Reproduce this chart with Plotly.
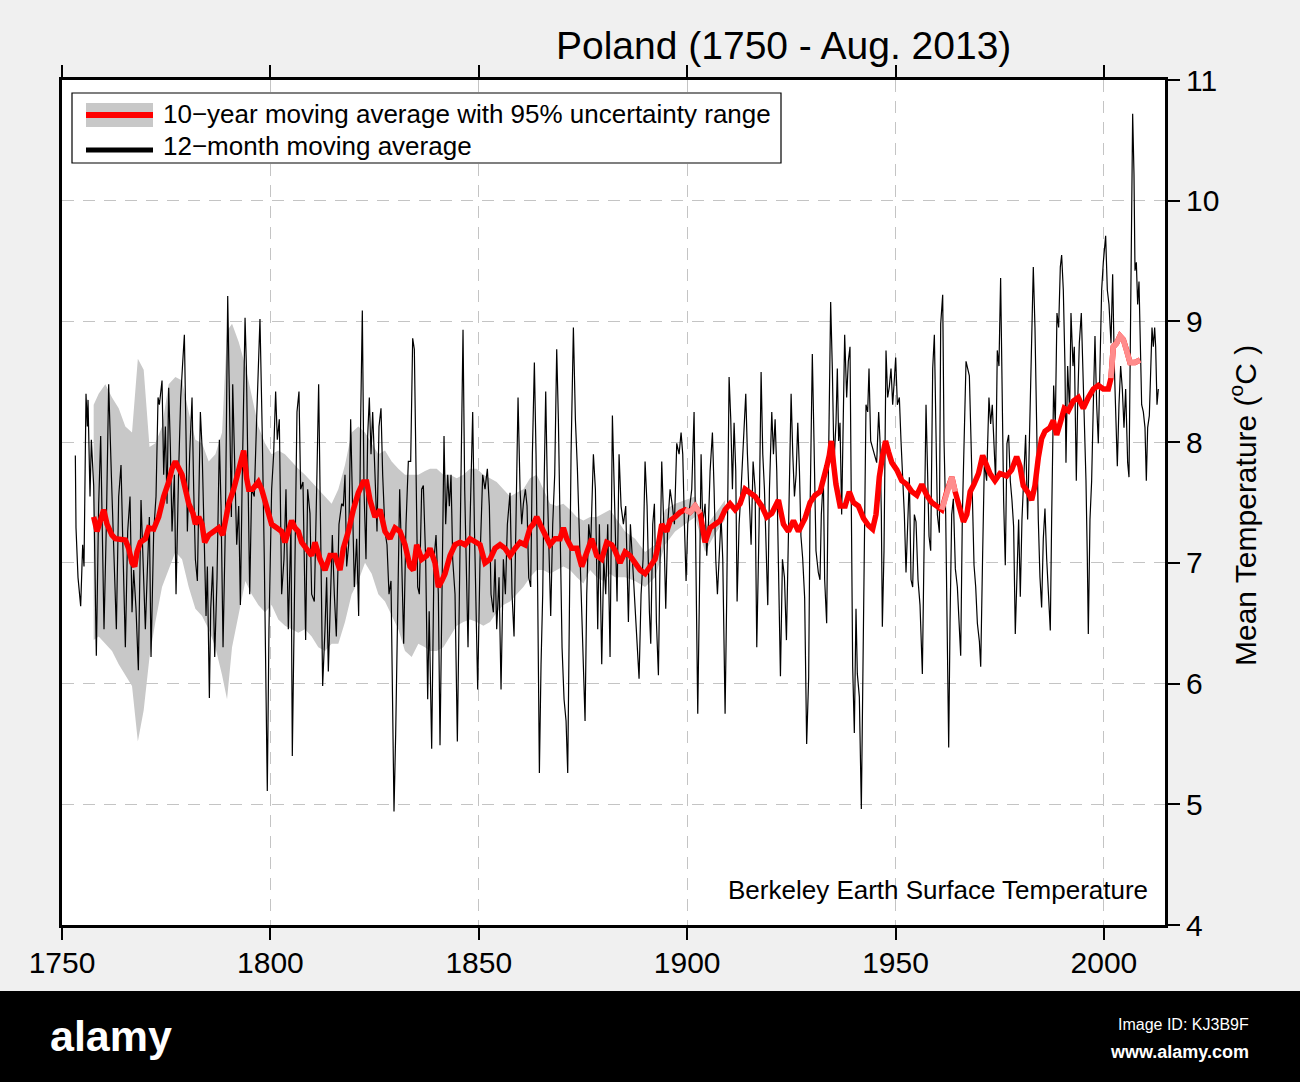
import plotly.graph_objects as go

# ---------------- data ----------------
black_years = [
    1753.2, 1753.36, 1753.84, 1754.48, 1754.96, 1755.28, 1755.76, 1756.08, 1756.24, 1756.72,
    1757.04, 1757.6, 1758.24, 1758.8, 1759.28, 1759.76, 1760.08, 1760.64, 1761.2, 1761.84,
    1762.4, 1763.04, 1763.6, 1764.16, 1764.64, 1765.2, 1765.76, 1766.32, 1766.8, 1767.2,
    1767.76, 1768.32, 1768.96, 1769.36, 1770.0, 1770.48, 1770.96, 1771.36, 1772.0, 1772.56,
    1773.04, 1773.36, 1774.0, 1774.4, 1774.8, 1775.2, 1775.6, 1776.0, 1776.4, 1776.96,
    1777.36, 1778.0, 1778.48, 1778.96, 1779.36, 1779.76, 1780.08, 1780.64, 1781.2, 1781.6,
    1782.0, 1782.48, 1782.8, 1783.2, 1783.6, 1784.08, 1784.56, 1784.88, 1785.36, 1785.68,
    1786.16, 1786.64, 1787.2, 1787.76, 1788.16, 1788.64, 1789.2, 1789.76, 1790.16, 1790.64,
    1790.96, 1791.44, 1791.92, 1792.4, 1792.8, 1793.2, 1793.92, 1794.24, 1794.64, 1795.04,
    1795.5, 1796.14, 1796.7, 1797.5, 1798.06, 1798.54, 1799.26, 1799.66, 1800.3, 1800.78,
    1801.26, 1801.66, 1802.14, 1802.7, 1803.26, 1803.74, 1804.3, 1804.94, 1805.26, 1805.9,
    1806.38, 1806.86, 1807.26, 1807.82, 1808.46, 1808.94, 1809.5, 1809.9, 1810.54, 1811.1,
    1811.58, 1812.14, 1812.54, 1813.1, 1813.5, 1813.9, 1814.38, 1814.86, 1815.34, 1815.82,
    1816.46, 1817.1, 1817.5, 1817.9, 1818.3, 1818.78, 1819.26, 1819.66, 1820.14, 1820.7,
    1821.18, 1821.66, 1822.06, 1822.46, 1822.94, 1823.34, 1823.74, 1824.14, 1824.54, 1825.1,
    1825.58, 1826.06, 1826.54, 1826.94, 1827.5, 1827.98, 1828.46, 1828.94, 1829.66, 1830.06,
    1830.54, 1831.02, 1831.5, 1831.98, 1832.54, 1833.1, 1833.66, 1834.14, 1834.54, 1834.94,
    1835.34, 1835.74, 1836.3, 1836.7, 1837.26, 1837.74, 1838.1, 1838.7, 1839.26, 1839.74,
    1840.3, 1840.7, 1841.18, 1841.66, 1842.06, 1842.54, 1842.94, 1843.34, 1843.74, 1844.3,
    1844.86, 1845.34, 1845.74, 1846.22, 1846.62, 1847.1, 1847.42, 1847.9, 1848.54, 1848.94,
    1849.34, 1849.74, 1850.3, 1850.94, 1851.5, 1852.06, 1852.54, 1852.94, 1853.5, 1853.9,
    1854.3, 1854.86, 1855.34, 1855.9, 1856.38, 1856.86, 1857.5, 1857.98, 1858.46, 1858.94,
    1859.42, 1859.9, 1860.3, 1860.7, 1861.18, 1861.58, 1861.98, 1862.46, 1862.86, 1863.34,
    1863.74, 1864.14, 1864.54, 1864.94, 1865.34, 1865.66, 1866.06, 1866.46, 1866.86, 1867.26,
    1867.74, 1868.22, 1868.7, 1869.1, 1869.5, 1869.98, 1870.46, 1870.94, 1871.34, 1871.74,
    1872.14, 1872.7, 1873.18, 1873.66, 1874.06, 1874.46, 1874.94, 1875.5, 1875.9, 1876.38,
    1876.86, 1877.5, 1877.98, 1878.54, 1878.94, 1879.5, 1879.98, 1880.46, 1880.94, 1881.5,
    1882.06, 1882.46, 1883.18, 1883.66, 1884.14, 1884.7, 1885.26, 1885.9, 1886.38, 1886.86,
    1887.34, 1887.9, 1888.46, 1888.94, 1889.42, 1889.9, 1890.38, 1890.94, 1891.26, 1891.74,
    1892.14, 1892.62, 1893.1, 1893.5, 1893.9, 1894.38, 1894.86, 1895.34, 1895.9, 1896.46,
    1896.94, 1897.5, 1898.06, 1898.54, 1898.94, 1899.34, 1899.74, 1900.14, 1900.62, 1901.1,
    1901.66, 1902.06, 1902.54, 1902.94, 1903.34, 1903.74, 1904.3, 1904.7, 1905.1, 1905.5,
    1906.06, 1906.46, 1906.86, 1907.26, 1907.66, 1908.14, 1908.54, 1909.1, 1909.5, 1910.06,
    1910.46, 1910.86, 1911.26, 1911.66, 1911.98, 1912.46, 1912.94, 1913.5, 1914.06, 1914.46,
    1914.86, 1915.34, 1915.82, 1916.3, 1916.7, 1917.26, 1917.74, 1918.14, 1918.54, 1918.94,
    1919.34, 1919.74, 1920.3, 1920.7, 1921.1, 1921.5, 1921.9, 1922.38, 1922.86, 1923.34,
    1923.82, 1924.3, 1924.94, 1925.34, 1925.74, 1926.14, 1926.54, 1926.94, 1927.3, 1927.71,
    1928.19, 1928.67, 1929.15, 1929.47, 1930.03, 1930.43, 1930.91, 1931.47, 1931.87, 1932.19,
    1932.67, 1932.99, 1933.47, 1933.87, 1934.43, 1934.83, 1935.23, 1935.71, 1936.03, 1936.35,
    1936.67, 1937.07, 1937.47, 1937.79, 1938.27, 1938.67, 1939.07, 1939.39, 1939.71, 1940.11,
    1940.51, 1940.83, 1941.31, 1941.79, 1942.11, 1942.51, 1942.91, 1943.31, 1943.63, 1944.03,
    1944.51, 1944.99, 1945.47, 1945.95, 1946.27, 1946.59, 1946.83, 1947.23, 1947.71, 1948.11,
    1948.51, 1948.91, 1949.31, 1949.71, 1950.03, 1950.43, 1950.91, 1951.31, 1951.71, 1952.11,
    1952.51, 1952.91, 1953.31, 1953.71, 1954.11, 1954.51, 1954.91, 1955.39, 1955.87, 1956.43,
    1956.83, 1957.31, 1957.71, 1958.03, 1958.43, 1958.91, 1959.31, 1959.71, 1960.03, 1960.51,
    1960.83, 1961.31, 1961.63, 1962.03, 1962.43, 1962.75, 1963.07, 1963.47, 1963.87, 1964.35,
    1964.83, 1965.31, 1965.63, 1966.03, 1966.51, 1966.91, 1967.31, 1967.71, 1968.11, 1968.51,
    1968.83, 1969.23, 1969.63, 1970.11, 1970.43, 1970.91, 1971.31, 1971.85, 1972.41, 1972.81,
    1973.21, 1973.61, 1974.01, 1974.41, 1974.81, 1975.21, 1975.61, 1975.93, 1976.33, 1976.73,
    1977.13, 1977.53, 1977.93, 1978.33, 1978.73, 1979.13, 1979.53, 1979.93, 1980.33, 1980.73,
    1981.21, 1981.69, 1982.09, 1982.65, 1983.05, 1983.45, 1983.85, 1984.25, 1984.65, 1985.05,
    1985.45, 1985.85, 1986.25, 1986.65, 1987.13, 1987.45, 1987.93, 1988.33, 1988.73, 1989.13,
    1989.53, 1989.85, 1990.25, 1990.65, 1990.89, 1991.29, 1991.77, 1992.09, 1992.57, 1992.89,
    1993.37, 1993.69, 1994.09, 1994.57, 1994.97, 1995.29, 1995.69, 1996.01, 1996.25, 1996.65,
    1997.05, 1997.45, 1997.85, 1998.25, 1998.65, 1999.05, 1999.45, 1999.85, 2000.41, 2000.81,
    2001.21, 2001.69, 2002.09, 2002.49, 2002.89, 2003.21, 2003.61, 2004.01, 2004.41, 2004.81,
    2005.21, 2005.69, 2006.01, 2006.33, 2006.65, 2006.89, 2007.21, 2007.45, 2007.77, 2008.09,
    2008.41, 2008.73, 2009.05, 2009.45, 2009.85, 2010.17, 2010.49, 2010.89, 2011.21, 2011.53,
    2011.85, 2012.17, 2012.41, 2012.73, 2013.05,
]
black_temps = [
    7.89, 7.29, 6.88, 6.64, 7.15, 6.97, 8.40, 8.13, 8.35, 7.55,
    8.02, 7.64, 6.23, 7.49, 8.05, 7.03, 6.45, 7.32, 8.48, 7.73,
    7.17, 6.45, 7.55, 7.81, 7.09, 6.30, 7.26, 7.55, 6.59, 6.94,
    6.62, 6.11, 7.52, 7.09, 6.45, 6.94, 7.38, 6.22, 7.26, 7.55,
    8.37, 8.31, 8.51, 7.73, 8.13, 7.49, 8.45, 7.96, 7.26, 7.73,
    6.74, 7.78, 8.37, 8.66, 8.89, 8.05, 7.26, 7.90, 8.37, 7.61,
    7.03, 6.85, 7.55, 8.25, 7.96, 7.32, 6.56, 6.97, 5.88, 6.62,
    6.97, 6.22, 6.88, 8.02, 7.47, 6.30, 7.32, 9.21, 8.48, 7.38,
    8.48, 7.84, 7.15, 7.47, 6.65, 7.61, 9.03, 8.63, 7.61, 6.74,
    7.61, 7.55, 8.19, 9.02, 8.05, 7.03, 5.11, 6.45, 7.61, 7.90,
    8.42, 8.02, 8.19, 6.74, 7.03, 7.61, 6.45, 7.32, 5.40, 7.03,
    8.25, 8.42, 7.61, 7.67, 6.36, 7.61, 7.41, 6.74, 6.68, 7.61,
    8.48, 7.03, 5.98, 6.45, 6.88, 6.10, 6.74, 7.23, 6.74, 6.39,
    7.32, 7.49, 7.47, 7.73, 6.97, 7.15, 8.19, 7.61, 6.80, 7.20,
    6.56, 8.19, 9.09, 7.61, 7.03, 8.05, 8.37, 7.90, 8.25, 7.73,
    7.26, 8.13, 8.28, 7.73, 7.26, 7.15, 6.74, 6.85, 4.94, 5.58,
    6.74, 7.61, 7.03, 6.33, 7.32, 7.84, 7.84, 8.86, 8.77, 7.90,
    6.80, 6.74, 7.61, 7.64, 7.03, 5.87, 6.60, 5.46, 7.03, 7.23,
    6.74, 5.49, 6.74, 8.05, 7.32, 7.73, 7.47, 7.73, 7.03, 6.74,
    5.52, 6.74, 7.90, 8.93, 7.61, 6.74, 6.30, 7.32, 8.25, 7.32,
    6.74, 5.95, 7.03, 7.73, 7.61, 7.78, 7.47, 6.74, 6.59, 7.03,
    6.45, 6.88, 5.95, 7.03, 6.74, 7.32, 7.58, 6.74, 6.39, 7.32,
    8.37, 7.61, 7.32, 7.49, 7.61, 7.47, 6.88, 6.80, 7.90, 8.66,
    7.90, 6.74, 5.26, 6.16, 6.74, 7.61, 8.42, 7.61, 7.03, 6.56,
    7.32, 7.73, 8.77, 8.19, 7.32, 6.30, 5.87, 5.69, 5.26, 6.74,
    7.90, 8.95, 8.19, 7.78, 7.32, 7.03, 6.30, 5.69, 6.74, 7.32,
    7.15, 7.90, 7.61, 6.45, 7.32, 6.16, 7.03, 6.74, 7.32, 6.22,
    8.22, 7.61, 6.68, 7.90, 7.47, 7.32, 7.47, 6.51, 7.32, 7.03,
    6.74, 6.39, 6.04, 6.74, 7.03, 7.84, 7.47, 6.59, 6.33, 7.32,
    7.49, 6.51, 6.07, 7.03, 7.84, 7.32, 6.62, 7.32, 7.61, 7.47,
    7.32, 7.99, 7.90, 8.08, 7.90, 7.32, 6.85, 7.32, 7.47, 7.61,
    8.25, 7.03, 5.75, 6.74, 7.90, 7.32, 7.49, 7.06, 7.32, 7.76,
    8.08, 7.61, 7.03, 6.74, 7.03, 7.38, 7.03, 5.75, 6.74, 8.54,
    8.19, 7.61, 8.16, 7.76, 6.68, 7.32, 7.61, 7.96, 8.40, 7.90,
    7.61, 7.15, 7.84, 7.61, 6.30, 7.32, 8.58, 7.90, 7.61, 7.03,
    6.65, 7.61, 8.25, 7.90, 8.19, 7.76, 7.03, 6.06, 7.03, 6.88,
    6.36, 7.32, 8.40, 7.90, 7.55, 7.73, 8.16, 7.76, 7.22, 7.04,
    6.71, 5.50, 6.05, 7.40, 8.73, 8.01, 7.10, 6.92, 6.86, 7.40,
    7.71, 6.86, 6.50, 7.71, 9.16, 8.61, 7.83, 8.16, 8.61, 8.01,
    8.16, 7.40, 8.37, 8.89, 8.37, 8.67, 8.79, 7.71, 6.14, 5.59,
    6.62, 6.08, 5.89, 4.96, 5.89, 7.10, 8.31, 8.25, 8.61, 8.01,
    7.95, 7.89, 7.83, 8.25, 8.01, 7.40, 6.47, 7.10, 8.76, 8.37,
    8.46, 8.61, 8.31, 8.52, 8.70, 8.31, 8.37, 8.01, 7.71, 7.40,
    6.92, 7.40, 7.71, 6.86, 6.80, 7.40, 7.34, 6.86, 6.65, 6.08,
    7.10, 8.31, 7.71, 7.22, 7.10, 8.61, 8.89, 8.01, 7.40, 7.25,
    8.98, 9.22, 8.01, 7.40, 6.50, 5.47, 6.50, 7.40, 7.53, 6.95,
    6.80, 6.50, 6.23, 7.40, 8.16, 8.67, 8.61, 8.55, 8.01, 7.40,
    6.98, 6.80, 6.50, 6.35, 6.14, 7.10, 7.83, 7.68, 8.37, 8.15,
    8.31, 7.99, 7.68, 8.76, 8.63, 9.36, 8.31, 7.52, 6.98, 7.99,
    8.06, 7.68, 7.52, 7.30, 6.41, 6.88, 7.36, 6.72, 7.36, 7.68,
    8.06, 7.36, 7.99, 8.95, 9.45, 8.95, 7.99, 7.36, 6.88, 6.63,
    7.20, 7.45, 7.04, 6.79, 6.44, 7.36, 8.47, 8.15, 9.07, 8.95,
    9.45, 9.55, 9.26, 8.63, 7.83, 8.63, 8.25, 9.07, 8.63, 8.79,
    7.68, 8.31, 8.82, 9.07, 8.63, 8.31, 7.68, 7.04, 6.41, 7.36,
    7.68, 8.31, 8.88, 8.31, 7.99, 8.63, 9.26, 9.49, 9.71, 9.26,
    9.14, 8.82, 9.39, 8.63, 8.15, 7.80, 8.31, 8.63, 8.44, 8.12,
    8.44, 7.83, 7.71, 8.63, 9.90, 10.72, 10.22, 9.42, 9.49, 9.14,
    9.33, 8.79, 8.31, 8.25, 8.12, 7.68, 8.12, 8.22, 8.63, 8.95,
    8.79, 8.95, 8.79, 8.31, 8.44,
]

red_years = [
    1757.6, 1758.4, 1759.2, 1760.0, 1760.8, 1762.0, 1762.8, 1764.0, 1765.2, 1766.0,
    1766.8, 1767.44, 1768.0, 1768.8, 1770.0, 1770.8, 1772.0, 1773.2, 1774.4, 1775.6,
    1776.4, 1777.2, 1778.0, 1778.8, 1779.6, 1780.4, 1781.44, 1782.0, 1782.8, 1783.6,
    1784.24, 1785.2, 1786.4, 1787.6, 1788.56, 1789.2, 1790.0, 1791.2, 1792.4, 1793.6,
    1794.3, 1794.8, 1795.7, 1797.1, 1797.9, 1799.1, 1800.3, 1801.5, 1802.7, 1803.5,
    1804.3, 1805.1, 1805.9, 1806.7, 1807.5, 1808.7, 1809.9, 1810.7, 1811.9, 1813.1,
    1814.3, 1815.5, 1816.7, 1817.5, 1818.7, 1819.9, 1821.1, 1822.3, 1823.1, 1823.9,
    1825.1, 1826.3, 1827.5, 1828.7, 1829.9, 1831.1, 1832.3, 1833.5, 1834.3, 1835.1,
    1836.3, 1837.5, 1838.3, 1839.5, 1840.3, 1841.1, 1841.9, 1843.1, 1844.3, 1845.5,
    1846.7, 1847.9, 1849.1, 1850.3, 1851.5, 1852.7, 1853.9, 1855.1, 1856.3, 1857.5,
    1858.7, 1859.9, 1861.1, 1862.3, 1863.1, 1863.9, 1864.7, 1865.9, 1867.1, 1868.3,
    1869.5, 1870.3, 1871.1, 1872.3, 1873.5, 1874.7, 1875.9, 1877.1, 1878.3, 1879.5,
    1880.7, 1881.9, 1882.7, 1883.9, 1885.1, 1886.3, 1887.5, 1888.7, 1889.9, 1891.1,
    1892.3, 1893.1, 1893.9, 1895.1, 1895.9, 1897.1, 1898.3, 1899.5, 1900.7, 1901.9,
    1903.1, 1904.3, 1905.5, 1906.7, 1907.9, 1909.1, 1910.3, 1911.5, 1912.7, 1913.9,
    1915.1, 1916.3, 1917.9, 1919.1, 1920.3, 1921.9, 1923.1, 1924.3, 1925.5, 1926.7,
    1927.7, 1928.3, 1929.5, 1930.7, 1931.9, 1932.7, 1933.5, 1934.1, 1934.6, 1935.1,
    1935.7, 1936.7, 1937.9, 1938.9, 1939.9, 1941.1, 1942.3, 1943.5, 1944.5, 1945.3,
    1946.1, 1946.9, 1947.6, 1948.3, 1949.1, 1950.3, 1951.5, 1952.7, 1953.9, 1955.1,
    1956.3, 1957.5, 1958.7, 1959.9, 1961.1, 1962.3, 1963.5, 1964.3, 1965.3, 1966.3,
    1967.1, 1967.9, 1968.8, 1969.9, 1970.9, 1971.9, 1972.65, 1973.85, 1975.05, 1976.65,
    1977.85, 1979.05, 1979.85, 1980.65, 1981.85, 1982.65, 1983.45, 1984.25, 1985.05, 1985.85,
    1987.05, 1987.85, 1988.65, 1989.69, 1990.49, 1991.45, 1992.65, 1993.85, 1995.05, 1996.25,
    1997.45, 1998.65, 1999.85, 2001.05, 2001.69, 2002.25, 2003.05, 2003.85, 2004.65, 2005.45,
    2006.25, 2007.45, 2008.65,
]
red_temps = [
    7.38, 7.26, 7.35, 7.44, 7.32, 7.23, 7.20, 7.20, 7.19, 7.12,
    7.00, 6.97, 7.09, 7.17, 7.20, 7.29, 7.28, 7.38, 7.55, 7.67,
    7.78, 7.84, 7.78, 7.73, 7.61, 7.49, 7.41, 7.32, 7.38, 7.32,
    7.17, 7.23, 7.26, 7.29, 7.23, 7.38, 7.49, 7.61, 7.77, 7.93,
    7.70, 7.61, 7.61, 7.67, 7.61, 7.47, 7.32, 7.29, 7.26, 7.17,
    7.26, 7.35, 7.29, 7.26, 7.17, 7.12, 7.06, 7.17, 7.03, 6.94,
    7.06, 7.06, 6.94, 7.12, 7.26, 7.44, 7.58, 7.67, 7.67, 7.52,
    7.38, 7.44, 7.26, 7.20, 7.29, 7.26, 7.15, 6.97, 6.94, 7.15,
    7.03, 7.06, 7.12, 7.00, 6.80, 6.85, 6.91, 7.06, 7.15, 7.17,
    7.15, 7.20, 7.17, 7.15, 7.00, 7.03, 7.12, 7.15, 7.12, 7.06,
    7.12, 7.17, 7.15, 7.29, 7.32, 7.38, 7.32, 7.23, 7.15, 7.20,
    7.20, 7.29, 7.20, 7.12, 7.12, 6.97, 7.09, 7.20, 7.06, 7.03,
    7.17, 7.15, 7.10, 7.00, 7.09, 7.06, 7.00, 6.94, 6.91, 6.97,
    7.03, 7.15, 7.32, 7.26, 7.35, 7.38, 7.42, 7.44, 7.42, 7.47,
    7.41, 7.17, 7.29, 7.32, 7.35, 7.44, 7.49, 7.44, 7.49, 7.61,
    7.58, 7.55, 7.47, 7.38, 7.41, 7.52, 7.32, 7.26, 7.35, 7.26,
    7.33, 7.37, 7.50, 7.56, 7.59, 7.68, 7.80, 7.89, 8.01, 7.83,
    7.65, 7.47, 7.47, 7.59, 7.50, 7.47, 7.37, 7.31, 7.28, 7.40,
    7.71, 7.89, 8.01, 7.92, 7.83, 7.77, 7.68, 7.65, 7.59, 7.56,
    7.65, 7.56, 7.50, 7.47, 7.44, 7.59, 7.71, 7.59, 7.44, 7.34,
    7.40, 7.59, 7.65, 7.74, 7.89, 7.80, 7.74, 7.68, 7.74, 7.72,
    7.77, 7.88, 7.80, 7.64, 7.58, 7.52, 7.64, 7.87, 8.03, 8.09,
    8.12, 8.18, 8.06, 8.18, 8.28, 8.26, 8.34, 8.37, 8.28, 8.37,
    8.44, 8.47, 8.44, 8.44, 8.53, 8.79, 8.82, 8.88, 8.85, 8.76,
    8.66, 8.66, 8.68,
]

band_years = [
    1757.6, 1758.8, 1760.4, 1762.0, 1763.6, 1765.2, 1766.8, 1768.2, 1769.6, 1771.0,
    1772.4, 1774.0, 1775.6, 1777.2, 1778.8, 1780.4, 1782.0, 1783.6, 1785.2, 1786.8,
    1788.4, 1789.6, 1790.8, 1792.4, 1794.0, 1795.5, 1797.1, 1798.7, 1800.3, 1801.9,
    1803.5, 1805.1, 1806.7, 1808.3, 1809.9, 1811.5, 1813.1, 1814.7, 1816.3, 1817.9,
    1819.5, 1821.1, 1822.7, 1824.3, 1825.9, 1827.5, 1829.1, 1830.7, 1832.3, 1833.9,
    1835.5, 1837.1, 1838.3, 1839.9, 1841.5, 1843.1, 1844.7, 1846.3, 1847.9, 1849.5,
    1851.1, 1852.7, 1854.3, 1855.9, 1857.5, 1859.1, 1860.7, 1862.3, 1863.9, 1865.5,
    1867.1, 1868.7, 1870.3, 1871.9, 1873.5, 1875.1, 1876.7, 1878.3, 1879.9, 1881.5,
    1882.7, 1885.1, 1887.5, 1889.9, 1892.3, 1894.7, 1897.1, 1899.5, 1901.9, 1904.3,
    1906.7, 1909.1,
]
band_upper = [
    8.31, 8.40, 8.48, 8.37, 8.28, 8.13, 8.08, 8.69, 8.60, 7.96,
    7.99, 8.13, 8.48, 8.54, 8.51, 8.25, 8.02, 7.99, 7.84, 7.90,
    8.08, 8.92, 8.98, 8.83, 8.63, 8.40, 8.13, 7.99, 7.90, 7.93,
    7.90, 7.84, 7.78, 7.73, 7.67, 7.61, 7.55, 7.49, 7.61, 7.81,
    8.08, 8.13, 8.08, 7.99, 7.90, 7.93, 7.84, 7.78, 7.73, 7.73,
    7.73, 7.76, 7.78, 7.78, 7.73, 7.73, 7.70, 7.73, 7.78, 7.78,
    7.73, 7.70, 7.67, 7.61, 7.55, 7.58, 7.61, 7.70, 7.73, 7.61,
    7.49, 7.47, 7.49, 7.44, 7.38, 7.35, 7.38, 7.38, 7.41, 7.44,
    7.38, 7.26, 7.20, 7.09, 7.15, 7.44, 7.49, 7.52, 7.55, 7.29,
    7.40, 7.52,
]
band_lower = [
    6.36, 6.39, 6.33, 6.27, 6.16, 6.07, 5.98, 5.52, 5.78, 6.22,
    6.51, 6.80, 6.94, 7.09, 7.03, 6.80, 6.62, 6.56, 6.45, 6.30,
    6.07, 5.87, 6.30, 6.59, 6.85, 6.74, 6.65, 6.59, 6.65, 6.53,
    6.48, 6.45, 6.42, 6.45, 6.39, 6.30, 6.27, 6.33, 6.33, 6.51,
    6.74, 6.85, 7.00, 6.91, 6.74, 6.68, 6.56, 6.45, 6.27, 6.22,
    6.33, 6.30, 6.27, 6.27, 6.30, 6.39, 6.48, 6.51, 6.53, 6.51,
    6.48, 6.51, 6.59, 6.65, 6.68, 6.74, 6.80, 6.88, 6.94, 6.94,
    6.91, 6.94, 6.97, 6.94, 6.88, 6.83, 6.94, 6.88, 6.85, 6.91,
    6.88, 6.88, 6.85, 6.80, 6.88, 7.15, 7.26, 7.32, 7.38, 7.09,
    7.24, 7.36,
]

# stretches where the 10-year line is drawn lighter (pink)
pink_ranges = [(1899.5, 1903.1), (1961.1, 1964.3), (2001.69, 2008.65)]

x_ticks = [1750, 1800, 1850, 1900, 1950, 2000]
y_ticks = [4, 5, 6, 7, 8, 9, 10, 11]

title_text = "Poland (1750 - Aug. 2013)"
y_title = "Mean Temperature (<sup>o</sup>C )"
legend_labels = ["10\u2212year moving average with 95% uncertainty range",
                 "12\u2212month moving average"]
credit_text = "Berkeley Earth Surface Temperature"

# ---------------- figure ----------------
W, H = 1300, 1082
L, R, T, B = 62, 1165, 80, 925   # plot-area pixel box


def px(xp):
    return (xp - L) / (R - L)


def py(yp):
    return (B - yp) / (B - T)


FONT = "Liberation Sans, Arial, Helvetica, sans-serif"
RED = "#ff0000"
PINK = "#ff8c8c"
GRAY = "#c8c8c8"

fig = go.Figure()

# uncertainty band
fig.add_trace(go.Scatter(x=band_years, y=band_lower, mode="lines",
                         line=dict(width=0, color=GRAY), hoverinfo="skip",
                         showlegend=False))
fig.add_trace(go.Scatter(x=band_years, y=band_upper, mode="lines",
                         line=dict(width=0, color=GRAY), fill="tonexty",
                         fillcolor=GRAY, hoverinfo="skip", showlegend=False))

# 12-month moving average
fig.add_trace(go.Scatter(x=black_years, y=black_temps, mode="lines",
                         line=dict(width=1.2, color="#000000"),
                         showlegend=False))

# 10-year moving average
fig.add_trace(go.Scatter(x=red_years, y=red_temps, mode="lines",
                         line=dict(width=5.5, color=RED), showlegend=False))
for lo, hi in pink_ranges:
    xs = [yv for yv in red_years if lo <= yv <= hi]
    ys = [t for yv, t in zip(red_years, red_temps) if lo <= yv <= hi]
    fig.add_trace(go.Scatter(x=xs, y=ys, mode="lines",
                             line=dict(width=5.5, color=PINK), showlegend=False))

shapes = []
annotations = []

# bottom watermark band
shapes.append(dict(type="rect", xref="paper", yref="paper",
                   x0=px(-5), x1=px(W + 5), y0=py(991), y1=py(H + 5),
                   fillcolor="#000000", line=dict(width=0), layer="above"))
annotations += [
    dict(text="<b>alamy</b>", xref="paper", yref="paper", x=px(48), y=py(1036),
         xanchor="left", yanchor="middle", showarrow=False,
         font=dict(family=FONT, size=43, color="#ffffff")),
    dict(text="Image ID: KJ3B9F", xref="paper", yref="paper", x=px(1251), y=py(1024),
         xanchor="right", yanchor="middle", showarrow=False,
         font=dict(family=FONT, size=16, color="#ffffff")),
    dict(text="<b>www.alamy.com</b>", xref="paper", yref="paper", x=px(1251), y=py(1052),
         xanchor="right", yanchor="middle", showarrow=False,
         font=dict(family=FONT, size=18, color="#ffffff")),
]

# legend drawn by hand (gray patch behind red line)
shapes += [
    dict(type="rect", xref="paper", yref="paper", x0=px(72), x1=px(781), y0=py(163), y1=py(93),
         fillcolor="#ffffff", line=dict(color="#000000", width=1.2), layer="above"),
    dict(type="rect", xref="paper", yref="paper", x0=px(86), x1=px(153), y0=py(127), y1=py(103),
         fillcolor=GRAY, line=dict(width=0), layer="above"),
    dict(type="line", xref="paper", yref="paper", x0=px(86), x1=px(153), y0=py(115), y1=py(115),
         line=dict(color=RED, width=6), layer="above"),
    dict(type="line", xref="paper", yref="paper", x0=px(86), x1=px(153), y0=py(150), y1=py(150),
         line=dict(color="#000000", width=5), layer="above"),
]
annotations += [
    dict(text=legend_labels[0], xref="paper", yref="paper", x=px(161), y=py(114),
         xanchor="left", yanchor="middle", showarrow=False,
         font=dict(family=FONT, size=26, color="#000000")),
    dict(text=legend_labels[1], xref="paper", yref="paper", x=px(161), y=py(146),
         xanchor="left", yanchor="middle", showarrow=False,
         font=dict(family=FONT, size=26, color="#000000")),
    dict(text=title_text, xref="paper", yref="paper", x=px(783), y=py(45),
         xanchor="center", yanchor="middle", showarrow=False,
         font=dict(family=FONT, size=39, color="#000000")),
    dict(text=y_title, xref="paper", yref="paper", x=px(1243), y=py(506),
         xanchor="center", yanchor="middle", showarrow=False, textangle=-90,
         font=dict(family=FONT, size=30, color="#000000")),
    dict(text=credit_text, xref="paper", yref="paper", x=px(1150), y=py(890),
         xanchor="right", yanchor="middle", showarrow=False,
         font=dict(family=FONT, size=26, color="#000000")),
]

fig.update_layout(
    width=W, height=H,
    margin=dict(l=L, r=W - R, t=T, b=H - B, pad=0),
    paper_bgcolor="#f0f0f0",
    plot_bgcolor="#ffffff",
    showlegend=False,
    shapes=shapes,
    annotations=annotations,
    font=dict(family=FONT, color="#000000"),
)
fig.update_xaxes(
    range=[1750, 2014.65], tickmode="array", tickvals=x_ticks,
    ticktext=[str(v) for v in x_ticks],
    ticks="outside", ticklen=12, tickwidth=2, tickcolor="#000000",
    showline=True, linewidth=3, linecolor="#000000", mirror="ticks",
    showgrid=True, gridcolor="#c4c4c4", gridwidth=1, griddash="12px,9px",
    zeroline=False, tickfont=dict(family=FONT, size=30, color="#000000"),
    ticklabelstandoff=-3,
)
fig.update_yaxes(
    range=[4, 11], tickmode="array", tickvals=y_ticks,
    ticktext=[str(v) for v in y_ticks], side="right",
    ticks="outside", ticklen=12, tickwidth=2, tickcolor="#000000",
    showline=True, linewidth=3, linecolor="#000000", mirror=True,
    showgrid=True, gridcolor="#c4c4c4", gridwidth=1, griddash="12px,9px",
    zeroline=False, tickfont=dict(family=FONT, size=30, color="#000000"),
)

fig.write_html("out.html")
